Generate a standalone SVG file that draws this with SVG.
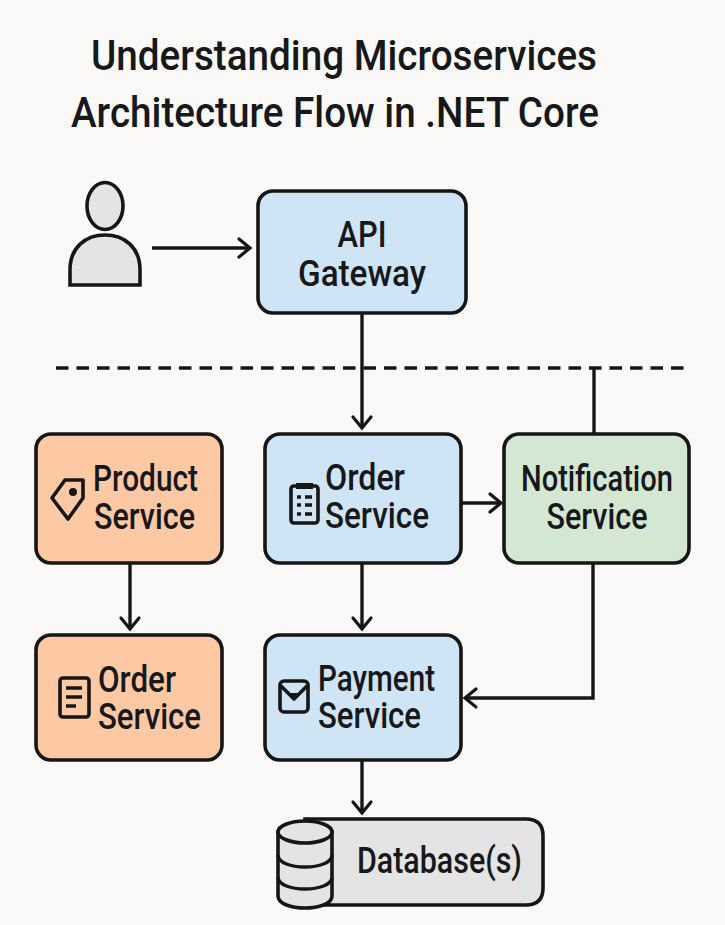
<svg xmlns="http://www.w3.org/2000/svg" width="725" height="925" viewBox="0 0 725 925">
<defs>
<marker id="arr" viewBox="0 0 20 24" refX="17" refY="12" markerWidth="20" markerHeight="24" markerUnits="userSpaceOnUse" orient="auto"><path d="M6 3 L17 12 L6 21" fill="none" stroke="#161616" stroke-width="3.2" stroke-linecap="round" stroke-linejoin="miter"/></marker>
</defs>
<style>
.t{font-family:Roboto,"Liberation Sans",sans-serif;font-weight:500;fill:#16181a;font-size:37px}
.h{font-size:42px}
.box{stroke:#161616;stroke-width:3.6}
.blue{fill:#cfe4f5}.orange{fill:#fdc8a4}.green{fill:#d3e7d3}.grey{fill:#e4e4e4}
.ln{fill:none;stroke:#161616;stroke-width:3.4}
.ic{fill:none;stroke:#161616;stroke-width:3.6;stroke-linejoin:round}
</style>
<rect width="725" height="925" fill="#faf9f7"/>
<g id="title">
<text class="t h" x="91" y="70" textLength="506" lengthAdjust="spacingAndGlyphs">Understanding Microservices</text>
<text class="t h" x="71" y="127" textLength="528" lengthAdjust="spacingAndGlyphs">Architecture Flow in .NET Core</text>
</g>
<g id="connectors">
<path class="ln" d="M56 368H686" stroke-dasharray="12.5 8"/>
<path class="ln" marker-end="url(#arr)" d="M152 248H250"/>
<path class="ln" marker-end="url(#arr)" d="M362 313V428"/>
<path class="ln" d="M594 434V368"/>
<path class="ln" marker-end="url(#arr)" d="M461 503H501"/>
<path class="ln" marker-end="url(#arr)" d="M130 563V629"/>
<path class="ln" marker-end="url(#arr)" d="M362 563V629"/>
<path class="ln" marker-end="url(#arr)" d="M593 563V698H465"/>
<path class="ln" marker-end="url(#arr)" d="M362 760V813"/>
</g>
<g id="user">
<ellipse cx="105" cy="206" rx="18" ry="23.5" class="grey box"/>
<path class="grey box" d="M70 285V270C70 247 86 235 105 235C124 235 140 247 140 270V285Z"/>
</g>
<g id="api-gateway">
<rect class="blue box" x="258" y="191" width="208" height="122" rx="15"/>
<text class="t" x="362" y="247" text-anchor="middle" textLength="49" lengthAdjust="spacingAndGlyphs">API</text>
<text class="t" x="362" y="286" text-anchor="middle" textLength="128" lengthAdjust="spacingAndGlyphs">Gateway</text>
</g>
<g id="product-service">
<rect class="orange box" x="36" y="434" width="186" height="129" rx="15"/>
<path class="ic" d="M52 498L65 480H83V498L68 519Z"/>
<circle cx="73" cy="492" r="4" fill="#161616"/>
<text class="t" x="93" y="491" textLength="105" lengthAdjust="spacingAndGlyphs">Product</text>
<text class="t" x="94" y="529" textLength="101" lengthAdjust="spacingAndGlyphs">Service</text>
</g>
<g id="order-service-left">
<rect class="orange box" x="36" y="635" width="186" height="125" rx="15"/>
<rect class="ic" x="60" y="678" width="29" height="39" rx="3"/>
<path class="ic" d="M66 688H82M66 697H82M66 706H76"/>
<text class="t" x="98" y="692" textLength="78" lengthAdjust="spacingAndGlyphs">Order</text>
<text class="t" x="98" y="729" textLength="103" lengthAdjust="spacingAndGlyphs">Service</text>
</g>
<g id="order-service">
<rect class="blue box" x="265" y="434" width="196" height="129" rx="15"/>
<rect class="ic" x="291" y="486" width="27" height="37" rx="3" stroke-width="4"/>
<path d="M296 483H313V489H296Z" fill="#161616"/>
<path class="ic" d="M297 497H301M305 497H312M297 505H301M305 505H312M297 514H301M305 514H312" stroke-width="3"/>
<text class="t" x="325" y="490" textLength="80" lengthAdjust="spacingAndGlyphs">Order</text>
<text class="t" x="325" y="528" textLength="104" lengthAdjust="spacingAndGlyphs">Service</text>
</g>
<g id="notification-service">
<rect class="green box" x="504" y="434" width="185" height="129" rx="15"/>
<text class="t" x="597" y="491" text-anchor="middle" textLength="152" lengthAdjust="spacingAndGlyphs">Notification</text>
<text class="t" x="597" y="529" text-anchor="middle" textLength="101" lengthAdjust="spacingAndGlyphs">Service</text>
</g>
<g id="payment-service">
<rect class="blue box" x="265" y="635" width="196" height="125" rx="15"/>
<rect class="ic" x="280" y="681" width="28" height="31" rx="4" stroke-width="4"/>
<path class="ic" d="M281 686L294 699L307 686"/>
<path d="M289 693H299L294 699Z" fill="#161616"/>
<text class="t" x="318" y="691" textLength="117" lengthAdjust="spacingAndGlyphs">Payment</text>
<text class="t" x="318" y="728" textLength="103" lengthAdjust="spacingAndGlyphs">Service</text>
</g>
<g id="database">
<path class="grey box" d="M305 819H526Q543 819 543 836V888Q543 905 526 905H305Z"/>
<path class="grey box" d="M278 832V896C278 912 332 912 332 896V832Z"/>
<ellipse class="grey box" cx="305" cy="832" rx="27" ry="11"/>
<path class="ln" d="M278 855C278 871 332 871 332 855M278 877C278 893 332 893 332 877"/>
<text class="t" x="357" y="873" textLength="165" lengthAdjust="spacingAndGlyphs">Database(s)</text>
</g>
</svg>
